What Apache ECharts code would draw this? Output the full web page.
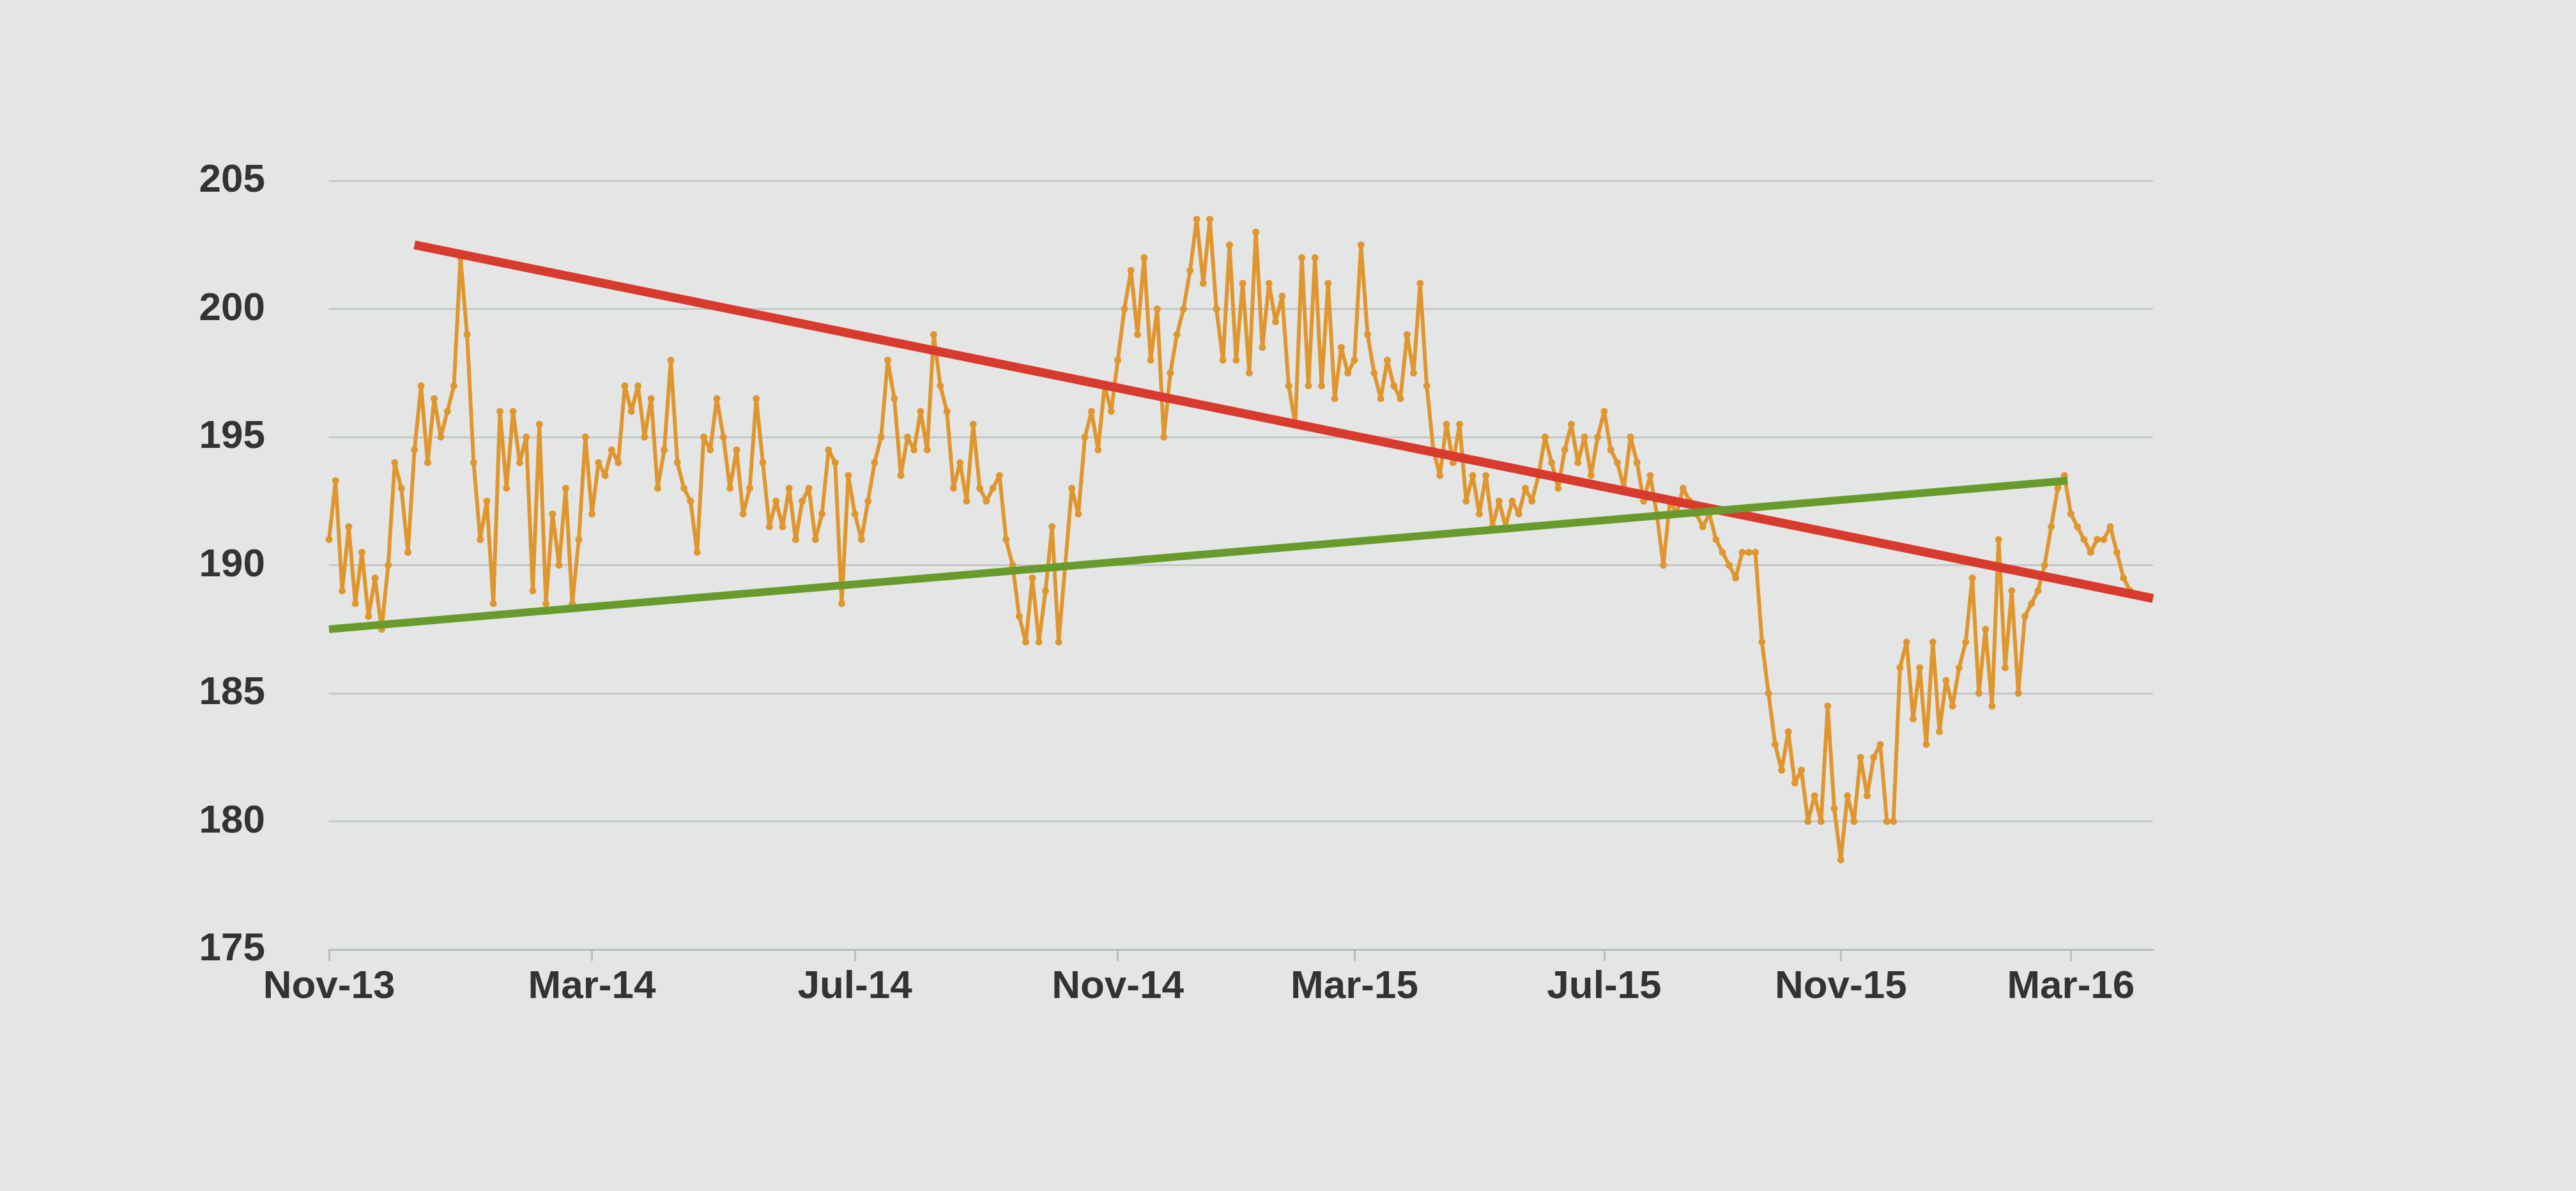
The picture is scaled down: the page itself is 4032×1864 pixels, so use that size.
<!DOCTYPE html>
<html>
<head>
<meta charset="utf-8">
<script src="https://cdn.jsdelivr.net/npm/echarts@6/dist/echarts.min.js"></script>
<style>
  html, body { margin: 0; padding: 0; background: #e3e6e5; }
  #chart { width: 4032px; height: 1864px; }
</style>
</head>
<body>
<div id="chart"></div>
<script>
// price samples, evenly spaced in time
var prices = [
  191,193.3,189,191.5,188.5,190.5,188,189.5,187.5,190,194,193,190.5,194.5,197,194,196.5,195,196,197,
  202,199,194,191,192.5,188.5,196,193,196,194,195,189,195.5,188.5,192,190,193,188.5,191,
  195,192,194,193.5,194.5,194,197,196,197,195,196.5,193,194.5,198,194,193,192.5,190.5,195,194.5,
  196.5,195,193,194.5,192,193,196.5,194,191.5,192.5,191.5,193,191,192.5,193,191,192,194.5,194,188.5,
  193.5,192,191,192.5,194,195,198,196.5,193.5,195,194.5,196,194.5,199,197,196,193,194,192.5,195.5,
  193,192.5,193,193.5,191,190,188,187,189.5,187,189,191.5,187,190,193,192,195,196,194.5,197,
  196,198,200,201.5,199,202,198,200,195,197.5,199,200,201.5,203.5,201,203.5,200,198,202.5,198,
  201,197.5,203,198.5,201,199.5,200.5,197,195.5,202,197,202,197,201,196.5,198.5,197.5,198,202.5,199,
  197.5,196.5,198,197,196.5,199,197.5,201,197,194.5,193.5,195.5,194,195.5,192.5,193.5,192,193.5,191.5,192.5,
  191.5,192.5,192,193,192.5,193.5,195,194,193,194.5,195.5,194,195,193.5,195,196,194.5,194,193,195,
  194,192.5,193.5,192,190,192.5,192,193,192.5,192,
  191.5,192,191,190.5,190,189.5,190.5,190.5,190.5,187,185,183,182,183.5,181.5,182,180,
  181,180,184.5,180.5,178.5,181,180,182.5,181,182.5,183,180,180,186,187,184,186,183,187,183.5,
  185.5,184.5,186,187,189.5,185,187.5,184.5,191,186,189,185,188,188.5,189,190,191.5,193,
  193.5,192,191.5,191,190.5,191,191,191.5,190.5,189.5,189
];
var tickLabels = ['Nov-13', 'Mar-14', 'Jul-14', 'Nov-14', 'Mar-15', 'Jul-15', 'Nov-15', 'Mar-16'];
var tickIndex = [0, 40, 80, 120, 156, 194, 230, 265];
var resistance = [[13, 202.5], [277.5, 188.7]];
var support = [[0, 187.5], [264.5, 193.3]];

var chart = echarts.init(document.getElementById('chart'));

chart.setOption({
  backgroundColor: '#e3e6e5',
  animation: false,
  grid: { left: 515, right: 662, top: 283, bottom: 378 },
  xAxis: {
    type: 'value',
    min: 0,
    max: 277.5,
    axisLine: { show: true, lineStyle: { color: '#b8bcbc', width: 3 } },
    axisTick: { show: true, customValues: tickIndex, length: 18, lineStyle: { color: '#b8bcbc', width: 3 } },
    axisLabel: {
      customValues: tickIndex,
      formatter: function (v) { return tickLabels[tickIndex.indexOf(v)] || ''; },
      fontFamily: 'Liberation Sans', fontSize: 62, fontWeight: 'bold', color: '#333', margin: 28
    },
    splitLine: { show: false }
  },
  yAxis: {
    type: 'value',
    min: 175, max: 205, interval: 5,
    axisLine: { show: false },
    axisTick: { show: false },
    axisLabel: { fontFamily: 'Liberation Sans', fontSize: 62, fontWeight: 'bold', color: '#333', margin: 100 },
    splitLine: { lineStyle: { color: '#c4c8c8', width: 3 } }
  },
  series: [
    {
      type: 'line',
      data: prices.map(function (v, i) { return [i, v]; }),
      symbol: 'circle', symbolSize: 11,
      itemStyle: { color: '#e0962e' },
      lineStyle: { color: '#e0962e', width: 6 },
      z: 2
    },
    {
      type: 'line', data: resistance, symbol: 'none',
      lineStyle: { color: '#d83a2e', width: 14 }, z: 3
    },
    {
      type: 'line', data: support, symbol: 'none',
      lineStyle: { color: '#689a2c', width: 12 }, z: 3
    }
  ]
});
</script>
</body>
</html>
